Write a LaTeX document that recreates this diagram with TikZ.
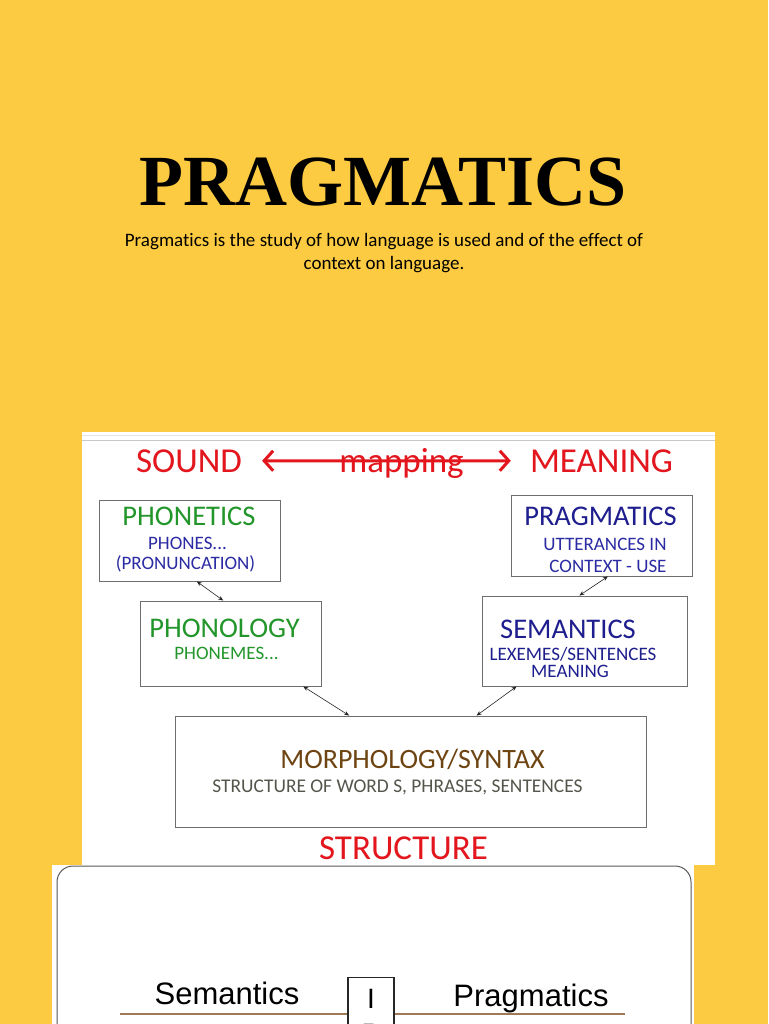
\documentclass[tikz,border=0pt]{standalone}
\usepackage{fontspec}
\setmainfont{Carlito}[Ligatures=CommonOff]
\newfontfamily\tnr{Liberation Serif}
\newfontfamily\ari{Liberation Sans}
\usetikzlibrary{arrows.meta,calc}
\definecolor{bgy}{HTML}{FDCB41}
\definecolor{sred}{HTML}{E3161E}
\definecolor{sgreen}{HTML}{22962A}
\definecolor{snavy}{HTML}{1E1E8E}
\definecolor{sblue}{HTML}{2B2BA3}
\definecolor{sbrown}{HTML}{6E4512}
\definecolor{sgray}{HTML}{55554C}
\definecolor{boxgray}{HTML}{6E6E6E}
\definecolor{tan}{HTML}{A07A56}
\definecolor{hdr}{HTML}{C8C8C8}
\tikzset{
  txt/.style={inner sep=0pt, anchor=base},
  big/.style={txt, font=\fontsize{35}{40}\selectfont, text=sred},
  head/.style={txt, font=\fontsize{28.5}{32}\selectfont},
  small/.style={txt, font=\fontsize{19}{22}\selectfont},
  boxnode/.style={draw=boxgray, line width=0.9pt, inner sep=0pt, fill=white},
  redarr/.style={draw=sred, line width=3pt, {Straight Barb[length=9pt,width=20pt]}-{Straight Barb[length=9pt,width=20pt]}},
  dbl/.style={draw=black!85, line width=0.6pt, {Stealth[length=5pt,width=4pt]}-{Stealth[length=5pt,width=4pt]}},
}
\begin{document}
\begin{tikzpicture}[x=1pt,y=-1pt]
\useasboundingbox (0,0) rectangle (768,1024);
\clip (0,0) rectangle (768,1024);
\fill[bgy] (0,0) rectangle (768,1024);

% title
\node[txt, font=\tnr\bfseries\fontsize{72}{80}\selectfont] (title) at (383,206) {PRAGMATICS};
\node[small] (sub1) at (384,247) {Pragmatics is the study of how language is used and of the effect of};
\node[small] (sub2) at (384,269) {context on language.};

% top picture
\fill[white] (82,432) rectangle (715,865);
\draw[hdr, line width=0.8pt] (82,440) -- (715,440);
\draw[hdr!50, line width=0.5pt] (82,435) -- (715,435);

\node[big] (sound) at (189,472) {SOUND};
\node[big] (meaning) at (601.5,472) {MEANING};
\draw[redarr, shorten <=20pt, shorten >=19pt] (sound.east) -- (meaning.west);
\node[big] (mapping) at (401.5,472) {mapping};

\node[boxnode, minimum width=181pt, minimum height=81pt] (phonetics) at (189.5,540.5) {};
\node[head, text=sgreen] (phoneticsT) at (189,525) {PHONETICS};
\node[small, text=sblue] (phones) at (187.5,549) {PHONES...};
\node[small, text=sblue] (pronun) at (185.5,569) {(PRONUNCATION)};

\node[boxnode, minimum width=181pt, minimum height=81pt] (pragmatics) at (601.5,535.5) {};
\node[head, text=snavy] (pragmaticsT) at (600.5,525) {PRAGMATICS};
\node[small, text=sblue] (utter) at (605,550) {UTTERANCES IN};
\node[small, text=sblue] (context) at (608,572) {CONTEXT - USE};

\node[boxnode, minimum width=181pt, minimum height=85pt] (phonology) at (230.5,643.5) {};
\node[head, text=sgreen] (phonologyT) at (224.5,637) {PHONOLOGY};
\node[small, text=sgreen] (phonemes) at (226.5,659) {PHONEMES...};

\node[boxnode, minimum width=205pt, minimum height=90pt] (semantics) at (584.5,641) {};
\node[head, text=snavy] (semanticsT) at (568,638) {SEMANTICS};
\node[small, text=snavy] (lexemes) at (573,660) {LEXEMES/SENTENCES};
\node[small, text=snavy] (meaningT) at (570,677) {MEANING};

\node[boxnode, minimum width=471pt, minimum height=111pt] (morph) at (410.5,771.5) {};
\node[head, text=sbrown, font=\fontsize{28}{32}\selectfont] (morphT) at (412.5,768) {MORPHOLOGY/SYNTAX};
\node[small, text=sgray, font=\fontsize{19.4}{22}\selectfont] (structOf) at (397.5,792) {STRUCTURE OF WORD S, PHRASES, SENTENCES};

\node[big] (structure) at (403.5,859) {STRUCTURE};

\draw[dbl] ($(phonetics.south west)!0.54!(phonetics.south east)$) -- ($(phonology.north west)!0.46!(phonology.north east)$);
\draw[dbl] ($(phonology.south west)!0.90!(phonology.south east)$) -- ($(morph.north west)!0.37!(morph.north east)$);
\draw[dbl] ($(pragmatics.south west)!0.535!(pragmatics.south east)$) -- ($(semantics.north west)!0.475!(semantics.north east)$);
\draw[dbl] ($(semantics.south west)!0.17!(semantics.south east)$) -- ($(morph.north west)!0.64!(morph.north east)$);

% bottom picture
\fill[white] (52,865) rectangle (694,1024);
\draw[boxgray!80!black, line width=1pt, rounded corners=16pt] (57,1060) -- (57,866) -- (691,866) -- (691,1060);

\node[txt, font=\ari\fontsize{31}{36}\selectfont] (semB) at (227,1004) {Semantics};
\node[txt, font=\ari\fontsize{31}{36}\selectfont] (pragB) at (531,1006) {Pragmatics};
\node[draw=black!85, line width=1.1pt, inner sep=0pt, minimum width=46pt, minimum height=90pt, anchor=north] (ibox) at (371,977) {};
\node[txt, font=\ari\fontsize{28}{32}\selectfont] (iT) at (371,1008) {I};
\node[txt, font=\ari\fontsize{28}{32}\selectfont] (pT) at (371,1043) {P};
\coordinate (lineL) at (120,1014);
\coordinate (lineR) at (625,1014);
\draw[tan, line width=1.2pt] (lineL) -- (lineL -| ibox.west);
\draw[tan, line width=1.2pt] (lineR -| ibox.east) -- (lineR);
\end{tikzpicture}
\end{document}
